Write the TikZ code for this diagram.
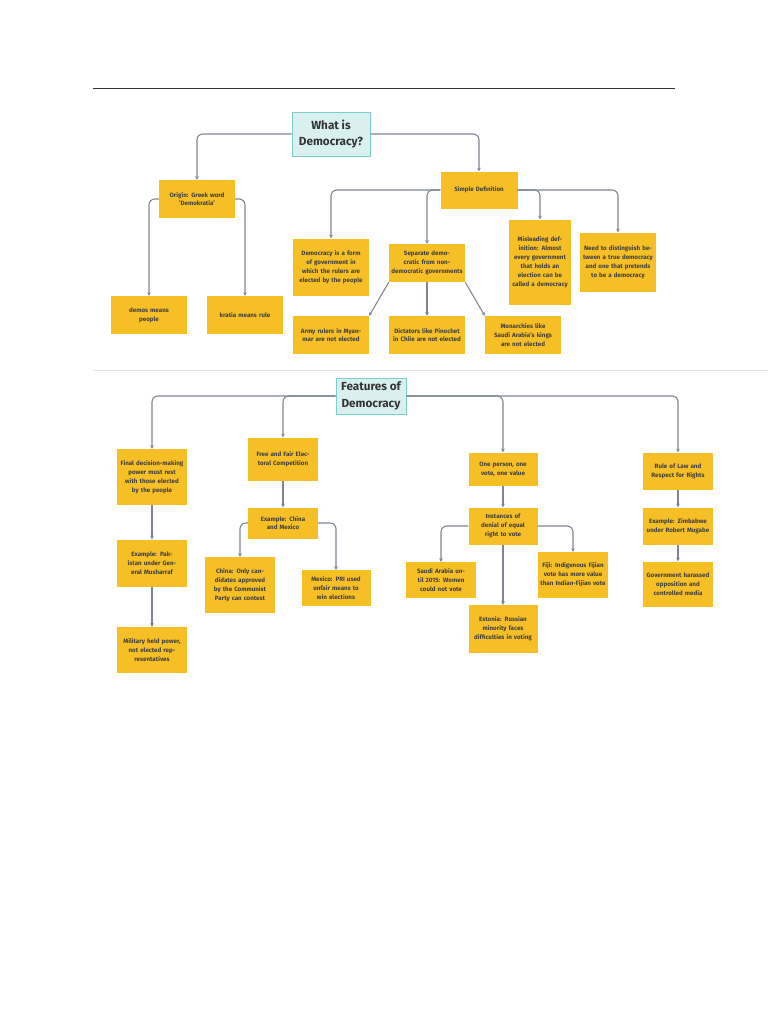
\documentclass[tikz,border=0pt]{standalone}
\usepackage{fontspec}
\setmainfont{Fira Sans}
\usetikzlibrary{arrows.meta}
\definecolor{boxyellow}{HTML}{F6BF26}
\definecolor{titlefill}{HTML}{D8F1F0}
\definecolor{titleline}{HTML}{7ECFCB}
\definecolor{linkgrey}{HTML}{7D8593}
\tikzset{
  box/.style={fill=boxyellow, align=center, inner sep=1pt, font=\fontsize{5.3}{7.6}\selectfont\bfseries, text=black!75},
  title/.style={fill=titlefill, draw=titleline, line width=0.8pt, align=center, inner sep=2pt, font=\fontsize{10}{14}\selectfont\bfseries, text=black!80},
  link/.style={draw=linkgrey, line width=0.9pt, rounded corners=5pt, -{Stealth[length=3pt,width=3pt]}}
}
\begin{document}
\begin{tikzpicture}[x=0.3mm,y=-0.3mm]
\useasboundingbox (0,0) rectangle (768,1024);
\fill[white] (0,0) rectangle (768,1024);
\draw[black!80, line width=0.8pt] (93,88) -- (675,88);				% top rule
\draw[black!10, line width=0.6pt] (93,370) -- (768,370);				% section rule

% What is democracy
\node[title, minimum width=78*0.3mm, minimum height=44*0.3mm] (what) at (331,134) {What is\\Democracy?};
\node[box, minimum width=76*0.3mm, minimum height=38*0.3mm, text width=70*0.3mm] (origin) at (197,199) {Origin: Greek word\\'Demokratia'};
\node[box, minimum width=77*0.3mm, minimum height=37*0.3mm, text width=70*0.3mm] (simple) at (479,190) {Simple Definition};
\node[box, minimum width=76*0.3mm, minimum height=38*0.3mm, text width=70*0.3mm] (demos) at (149,315) {demos means\\people};
\node[box, minimum width=76*0.3mm, minimum height=38*0.3mm, text width=70*0.3mm] (kratia) at (245,315) {kratia means rule};
\node[box, minimum width=76*0.3mm, minimum height=57*0.3mm, text width=72*0.3mm] (form) at (331,267) {Democracy is a form of government in which the rulers are elected by the people};
\node[box, minimum width=76*0.3mm, minimum height=38*0.3mm, text width=72*0.3mm] (separate) at (427,263) {Separate democratic from non-democratic governments};
\node[box, minimum width=62*0.3mm, minimum height=85*0.3mm, text width=58*0.3mm] (misleading) at (540,262) {Misleading definition: Almost every government that holds an election can be called a democracy};
\node[box, minimum width=76*0.3mm, minimum height=59*0.3mm, text width=72*0.3mm] (need) at (618,262) {Need to distinguish between a true democracy and one that pretends to be a democracy};
\node[box, minimum width=76*0.3mm, minimum height=38*0.3mm, text width=66*0.3mm] (army) at (331,335) {Army rulers in Myanmar are not elected};
\node[box, minimum width=76*0.3mm, minimum height=38*0.3mm, text width=72*0.3mm] (dictators) at (427,335) {Dictators like Pinochet in Chile are not elected};
\node[box, minimum width=76*0.3mm, minimum height=38*0.3mm, text width=72*0.3mm] (monarchies) at (523,335) {Monarchies like Saudi Arabia's kings are not elected};

\draw[link] (what.west) -- (197,134) -- (origin.north);
\draw[link] (what.east) -- (479,134) -- (simple.north);
\draw[link] (origin.west) -- (149,199) -- (demos.north);
\draw[link] (origin.east) -- (245,199) -- (kratia.north);
\draw[link] (simple.west) -- (331,190) -- (form.north);
\draw[link] (simple.west) -- (427,190) -- (separate.north);
\draw[link] (simple.east) -- (540,190) -- (misleading.north);
\draw[link] (simple.east) -- (618,190) -- (need.north);
\draw[link] (separate.south west) -- (army.north east);
\draw[link] (separate.south) -- (dictators.north);
\draw[link] (separate.south east) -- (monarchies.north west);

% Features of democracy
\node[title, minimum width=70*0.3mm, minimum height=36*0.3mm] (features) at (371,396) {Features of\\Democracy};
\node[box, minimum width=70*0.3mm, minimum height=56*0.3mm, text width=64*0.3mm] (final) at (152,477) {Final decision-making power must rest with those elected by the people};
\node[box, minimum width=70*0.3mm, minimum height=47*0.3mm, text width=62*0.3mm] (pakistan) at (152,563) {Example: Pakistan under General Musharraf};
\node[box, minimum width=70*0.3mm, minimum height=46*0.3mm, text width=66*0.3mm] (military) at (152,650) {Military held power, not elected representatives};
\node[box, minimum width=70*0.3mm, minimum height=43*0.3mm, text width=60*0.3mm] (free) at (283,459) {Free and Fair Electoral Competition};
\node[box, minimum width=70*0.3mm, minimum height=31*0.3mm, text width=64*0.3mm] (exchina) at (283,523) {Example: China and Mexico};
\node[box, minimum width=70*0.3mm, minimum height=56*0.3mm, text width=64*0.3mm] (china) at (240,585) {China: Only candidates approved by the Communist Party can contest};
\node[box, minimum width=69*0.3mm, minimum height=36*0.3mm, text width=64*0.3mm] (mexico) at (336,588) {Mexico: PRI used unfair means to win elections};
\node[box, minimum width=69*0.3mm, minimum height=33*0.3mm, text width=62*0.3mm] (oneperson) at (503,469) {One person, one vote, one value};
\node[box, minimum width=69*0.3mm, minimum height=37*0.3mm, text width=58*0.3mm] (instances) at (503,526) {Instances of denial of equal right to vote};
\node[box, minimum width=70*0.3mm, minimum height=36*0.3mm, text width=66*0.3mm] (saudi) at (441,580) {Saudi Arabia until 2015: Women could not vote};
\node[box, minimum width=69*0.3mm, minimum height=48*0.3mm, text width=60*0.3mm] (estonia) at (503,629) {Estonia: Russian minority faces difficulties in voting};
\node[box, minimum width=70*0.3mm, minimum height=46*0.3mm, text width=66*0.3mm] (fiji) at (573,575) {Fiji: Indigenous Fijian vote has more value than Indian-Fijian vote};
\node[box, minimum width=70*0.3mm, minimum height=37*0.3mm, text width=62*0.3mm] (rule) at (678,471) {Rule of Law and Respect for Rights};
\node[box, minimum width=70*0.3mm, minimum height=37*0.3mm, text width=64*0.3mm] (zimbabwe) at (678,526) {Example: Zimbabwe under Robert Mugabe};
\node[box, minimum width=70*0.3mm, minimum height=45*0.3mm, text width=64*0.3mm] (government) at (678,584) {Government harassed opposition and controlled media};

\draw[link] (features.west) -- (152,396) -- (final.north);
\draw[link] (features.west) -- (283,396) -- (free.north);
\draw[link] (features.east) -- (503,396) -- (oneperson.north);
\draw[link] (features.east) -- (678,396) -- (rule.north);
\draw[link] (final) -- (pakistan);
\draw[link] (pakistan) -- (military);
\draw[link] (free) -- (exchina);
\draw[link] (exchina.west) -- (240,523) -- (china.north);
\draw[link] (exchina.east) -- (336,523) -- (mexico.north);
\draw[link] (oneperson) -- (instances);
\draw[link] (instances.west) -- (441,526) -- (saudi.north);
\draw[link] (instances.south) -- (estonia.north);
\draw[link] (instances.east) -- (573,526) -- (fiji.north);
\draw[link] (rule) -- (zimbabwe);
\draw[link] (zimbabwe) -- (government);
\end{tikzpicture}
\end{document}
